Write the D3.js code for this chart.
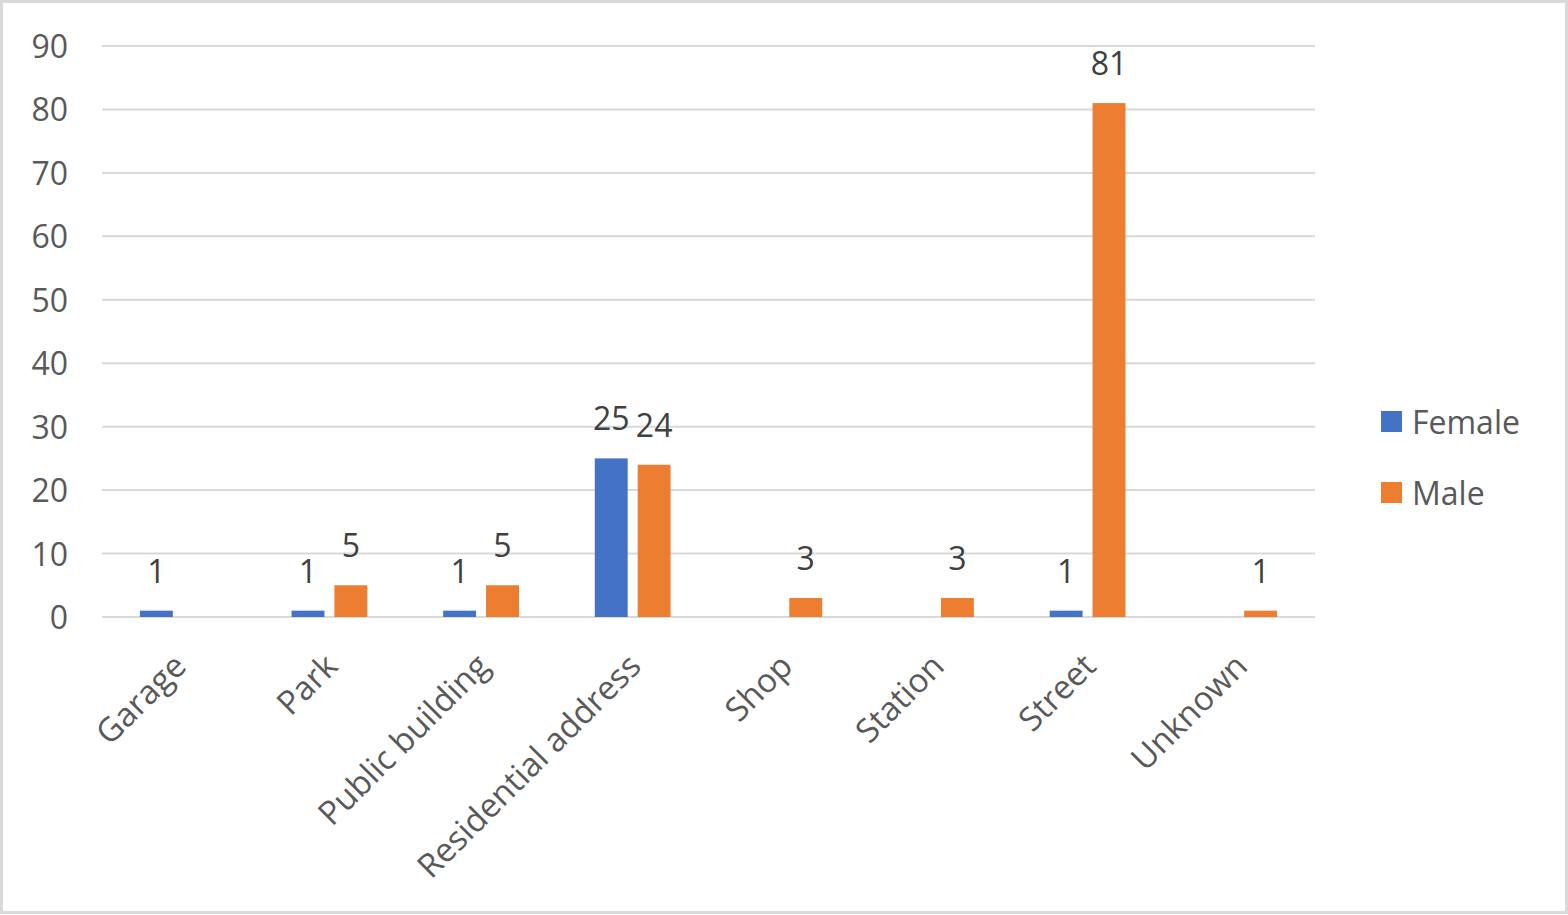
<!DOCTYPE html>
<html>
<head>
<meta charset="utf-8">
<script src="https://cdn.jsdelivr.net/npm/d3@7"></script>
<style>
  body { margin: 0; background: #fff; }
  text { font-family: "Open Sans", Lato, sans-serif; }
</style>
</head>
<body>
<div id="vis"></div>
<script>
// chart data
const CATEGORIES = ["Garage", "Park", "Public building", "Residential address", "Shop", "Station", "Street", "Unknown"];
const SERIES = ["Female", "Male"];
const FEMALE = [1, 1, 1, 25, 0, 0, 1, 0];
const MALE = [0, 5, 5, 24, 3, 3, 81, 1];
const Y_TICKS = [0, 10, 20, 30, 40, 50, 60, 70, 80, 90];
const COLORS = ["#4472c4", "#ed7d31"];

const FRAME_WIDTH = 1568;
const FRAME_HEIGHT = 915;
const PLOT = {left: 102, right: 1315, top: 46, bottom: 617};

const FRAME = d3.select("#vis")
  .append("svg")
    .attr("width", FRAME_WIDTH)
    .attr("height", FRAME_HEIGHT);

// outer border
FRAME.append("rect")
  .attr("x", 1.5).attr("y", 1.5)
  .attr("width", FRAME_WIDTH - 3).attr("height", FRAME_HEIGHT - 4)
  .attr("fill", "#fff")
  .attr("stroke", "#d9d9d9")
  .attr("stroke-width", 3);

// scales
const X_SCALE = d3.scaleBand()
  .domain(CATEGORIES)
  .range([PLOT.left, PLOT.right])
  .paddingInner(0.5)
  .paddingOuter(0.25);

const X_INNER = d3.scaleBand()
  .domain(SERIES)
  .range([0, X_SCALE.bandwidth()])
  .paddingInner(0.233);

const Y_SCALE = d3.scaleLinear()
  .domain([0, 90])
  .range([PLOT.bottom, PLOT.top]);

// gridlines
FRAME.append("g")
  .selectAll("line")
  .data(Y_TICKS)
  .enter()
  .append("line")
    .attr("x1", PLOT.left)
    .attr("x2", PLOT.right)
    .attr("y1", (d) => Y_SCALE(d))
    .attr("y2", (d) => Y_SCALE(d))
    .attr("stroke", "#d9d9d9")
    .attr("stroke-width", 2);

// y axis labels
const yAxis = FRAME.append("g")
  .attr("transform", "translate(" + (PLOT.left - 34) + ",0)")
  .call(d3.axisLeft(Y_SCALE).tickValues(Y_TICKS).tickSize(0).tickPadding(0));
yAxis.select(".domain").remove();
yAxis.selectAll("text")
  .attr("font-size", "32px")
  .attr("font-family", "'Open Sans', sans-serif")
  .attr("fill", "#595959")
  .attr("dy", "0.36em");

// bars
const rows = CATEGORIES.map((c, i) => ({cat: c, values: [FEMALE[i], MALE[i]]}));

const groups = FRAME.append("g")
  .selectAll("g")
  .data(rows)
  .enter()
  .append("g")
    .attr("transform", (d) => "translate(" + X_SCALE(d.cat) + ",0)");

const cells = groups.selectAll("g")
  .data((d) => d.values.map((v, j) => ({s: SERIES[j], v: v, j: j})).filter((e) => e.v > 0))
  .enter()
  .append("g");

cells.append("rect")
  .attr("x", (d) => X_INNER(d.s))
  .attr("y", (d) => Y_SCALE(d.v))
  .attr("width", X_INNER.bandwidth())
  .attr("height", (d) => Y_SCALE(0) - Y_SCALE(d.v))
  .attr("fill", (d) => COLORS[d.j]);

// data labels
cells.append("text")
  .attr("x", (d) => X_INNER(d.s) + X_INNER.bandwidth() / 2)
  .attr("y", (d) => Y_SCALE(d.v) - 28)
  .attr("text-anchor", "middle")
  .attr("font-size", "32px")
  .attr("fill", "#404040")
  .text((d) => d.v);

// category labels, rotated
FRAME.append("g")
  .selectAll("text")
  .data(CATEGORIES)
  .enter()
  .append("text")
    .attr("transform", (d) => "translate(" + (X_SCALE(d) + X_SCALE.bandwidth() / 2 + 2) + "," + 660 + ") rotate(-45)")
    .attr("text-anchor", "end")
    .attr("dy", "0.35em")
    .attr("font-size", "33px")
    .attr("fill", "#595959")
    .text((d) => d);

// legend
const legend = FRAME.append("g")
  .selectAll("g")
  .data(SERIES)
  .enter()
  .append("g")
    .attr("transform", (d, i) => "translate(1381," + (411 + i * 71) + ")");

legend.append("rect")
  .attr("width", 21)
  .attr("height", 21)
  .attr("fill", (d, i) => COLORS[i]);

legend.append("text")
  .attr("x", 31)
  .attr("y", 11)
  .attr("dy", "0.36em")
  .attr("font-size", "32px")
  .attr("fill", "#595959")
  .text((d) => d);
</script>
</body>
</html>
